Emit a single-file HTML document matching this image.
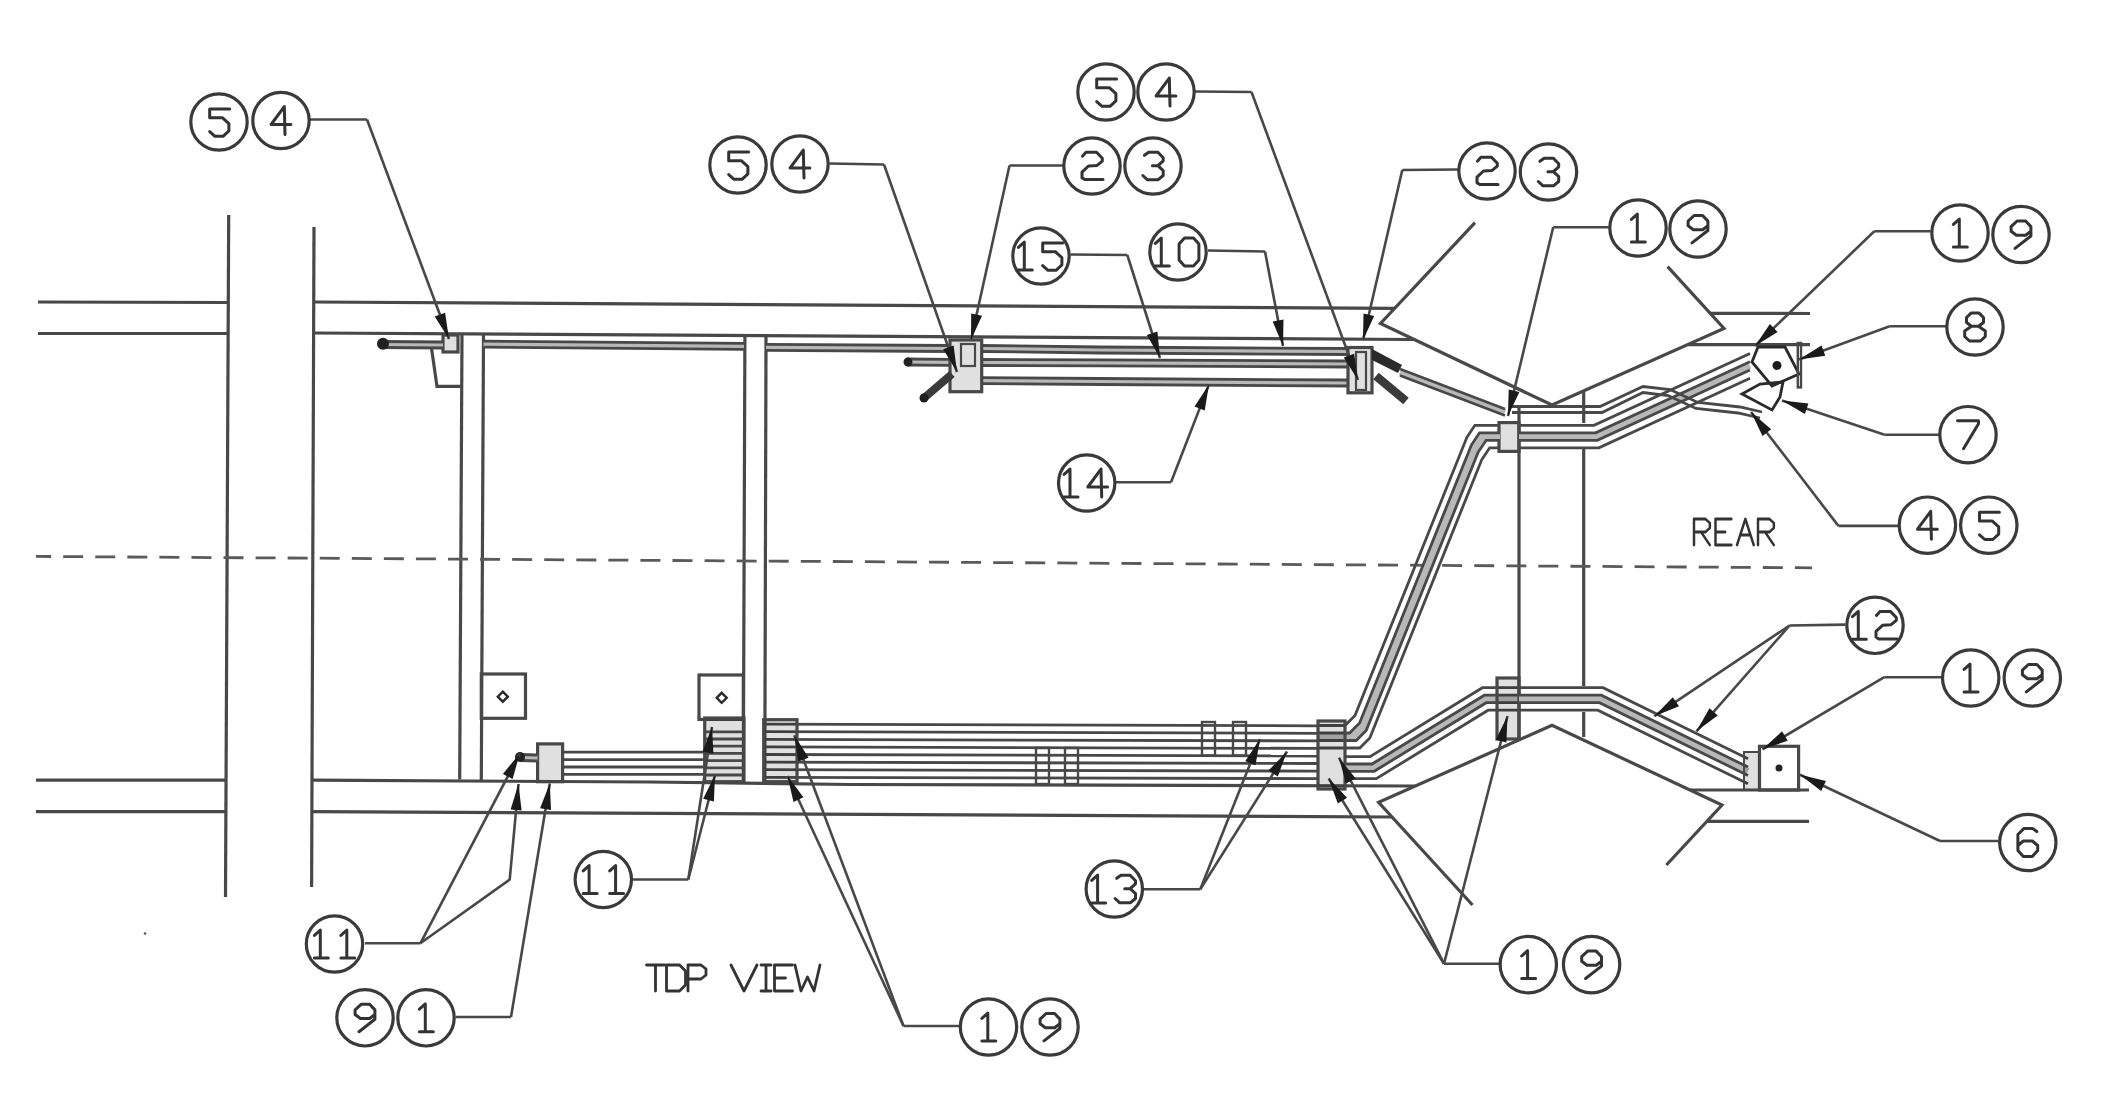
<!DOCTYPE html><html><head><meta charset="utf-8"><style>html,body{margin:0;padding:0;background:#fff;overflow:hidden}svg{display:block}</style></head><body><svg width="2116" height="1112" viewBox="0 0 2116 1112">
<rect width="100%" height="100%" fill="#fff"/>
<g font-family="Liberation Sans, sans-serif" fill="#2a2a2a">
<line x1="38" y1="302" x2="228" y2="302.5" stroke="#484848" stroke-width="3.2" />
<line x1="314" y1="302" x2="1395" y2="308.3" stroke="#484848" stroke-width="3.2" />
<line x1="1710" y1="313.3" x2="1810" y2="313.5" stroke="#484848" stroke-width="3.2" />
<line x1="38" y1="333.5" x2="228" y2="333.5" stroke="#484848" stroke-width="3.2" />
<line x1="314" y1="333" x2="1413" y2="339.5" stroke="#484848" stroke-width="3.2" />
<line x1="1688" y1="344.6" x2="1810" y2="344.6" stroke="#484848" stroke-width="3.2" />
<polyline points="1475,222.7 1380.5,323.4 1552,405 1724,328.4 1667.6,266.7" fill="none" stroke="#484848" stroke-width="3.2" stroke-linejoin="miter" />
<line x1="36" y1="780.2" x2="225.5" y2="780.2" stroke="#484848" stroke-width="3.2" />
<polyline points="311.6,780.2 650,782 850,784.5 1415,786" fill="none" stroke="#484848" stroke-width="3.2" stroke-linejoin="miter" />
<line x1="1690" y1="790" x2="1809" y2="790" stroke="#484848" stroke-width="3.2" />
<line x1="36" y1="811.6" x2="225.5" y2="811.6" stroke="#484848" stroke-width="3.2" />
<line x1="311.6" y1="811.6" x2="1392" y2="817" stroke="#484848" stroke-width="3.2" />
<line x1="1707" y1="821.4" x2="1809" y2="821.4" stroke="#484848" stroke-width="3.2" />
<polyline points="1472.5,905 1378.6,802.4 1552,725.3 1722,805 1666.4,865" fill="none" stroke="#484848" stroke-width="3.2" stroke-linejoin="miter" />
<line x1="228.7" y1="215" x2="225.5" y2="897" stroke="#484848" stroke-width="3.2" />
<line x1="314" y1="227" x2="311.6" y2="887" stroke="#484848" stroke-width="3.2" />
<line x1="462" y1="333.5" x2="459.7" y2="779.5" stroke="#484848" stroke-width="3.2" />
<line x1="483.5" y1="334" x2="481.3" y2="780" stroke="#484848" stroke-width="3.2" />
<line x1="744.9" y1="337" x2="743.3" y2="782" stroke="#484848" stroke-width="3.2" />
<line x1="766" y1="337" x2="764.8" y2="782" stroke="#484848" stroke-width="3.2" />
<line x1="1519" y1="406" x2="1519" y2="740" stroke="#484848" stroke-width="3.2" />
<line x1="1583.7" y1="392" x2="1583.7" y2="423" stroke="#484848" stroke-width="3.2" />
<line x1="1583.7" y1="449" x2="1583.7" y2="686" stroke="#484848" stroke-width="3.2" />
<line x1="1583.7" y1="712" x2="1583.7" y2="737" stroke="#484848" stroke-width="3.2" />
<line x1="36" y1="556.4" x2="1812" y2="567.8" stroke="#5a5a5a" stroke-width="2.8" stroke-dasharray="20 12.07" stroke-dashoffset="4.9"/>
<polyline points="431.3,346.7 437,386.4 462,386.4" fill="none" stroke="#484848" stroke-width="3.2" stroke-linejoin="miter" />
<rect x="443" y="335" width="15" height="17" fill="#000" fill-opacity="0.12" stroke="#484848" stroke-width="3.2"/>
<rect x="481.3" y="674" width="44.2" height="44.3" fill="none" stroke="#484848" stroke-width="3.2"/>
<polygon points="502.8,691.7 507.8,696.7 502.8,701.7 497.8,696.7" fill="none" stroke="#2a2a2a" stroke-width="2.4"/>
<rect x="699" y="675" width="44.3" height="44.4" fill="none" stroke="#484848" stroke-width="3.2"/>
<polygon points="721.7,692.8 726.7,697.8 721.7,702.8 716.7,697.8" fill="none" stroke="#2a2a2a" stroke-width="2.4"/>
<polyline points="380,344.5 443,345" fill="none" stroke="#b8b8b8" stroke-width="6" stroke-linejoin="miter" />
<polyline points="380,341.5 443,342" fill="none" stroke="#484848" stroke-width="2.8" stroke-linejoin="miter" />
<polyline points="380,347.5 443,348" fill="none" stroke="#484848" stroke-width="2.8" stroke-linejoin="miter" />
<polyline points="483.5,344.2 744,346.3" fill="none" stroke="#b8b8b8" stroke-width="6" stroke-linejoin="miter" />
<polyline points="483.5,341.2 744,343.3" fill="none" stroke="#484848" stroke-width="2.8" stroke-linejoin="miter" />
<polyline points="483.5,347.2 744,349.3" fill="none" stroke="#484848" stroke-width="2.8" stroke-linejoin="miter" />
<polyline points="766,347.4 950,348.5" fill="none" stroke="#b8b8b8" stroke-width="6" stroke-linejoin="miter" />
<polyline points="766,344.4 950,345.5" fill="none" stroke="#484848" stroke-width="2.8" stroke-linejoin="miter" />
<polyline points="766,350.4 950,351.5" fill="none" stroke="#484848" stroke-width="2.8" stroke-linejoin="miter" />
<polyline points="981.7,348.5 1100,350 1348,351.5" fill="none" stroke="#b8b8b8" stroke-width="6" stroke-linejoin="miter" />
<polyline points="981.7,345.5 1100,347 1348,348.5" fill="none" stroke="#484848" stroke-width="2.8" stroke-linejoin="miter" />
<polyline points="981.7,351.5 1100,353 1348,354.5" fill="none" stroke="#484848" stroke-width="2.8" stroke-linejoin="miter" />
<polyline points="907,362 950,362.3" fill="none" stroke="#b8b8b8" stroke-width="6" stroke-linejoin="miter" />
<polyline points="907,359 950,359.3" fill="none" stroke="#484848" stroke-width="2.8" stroke-linejoin="miter" />
<polyline points="907,365 950,365.3" fill="none" stroke="#484848" stroke-width="2.8" stroke-linejoin="miter" />
<polyline points="981.7,362.5 1100,362.8 1348,364" fill="none" stroke="#b8b8b8" stroke-width="6" stroke-linejoin="miter" />
<polyline points="981.7,359.5 1100,359.8 1348,361" fill="none" stroke="#484848" stroke-width="2.8" stroke-linejoin="miter" />
<polyline points="981.7,365.5 1100,365.8 1348,367" fill="none" stroke="#484848" stroke-width="2.8" stroke-linejoin="miter" />
<polyline points="981.7,380.7 1100,381.5 1348,383" fill="none" stroke="#b8b8b8" stroke-width="6" stroke-linejoin="miter" />
<polyline points="981.7,377.7 1100,378.5 1348,380" fill="none" stroke="#484848" stroke-width="2.8" stroke-linejoin="miter" />
<polyline points="981.7,383.7 1100,384.5 1348,386" fill="none" stroke="#484848" stroke-width="2.8" stroke-linejoin="miter" />
<circle cx="383" cy="343.8" r="6" fill="#222"/>
<circle cx="908" cy="362" r="4.5" fill="#222"/>
<rect x="950" y="340" width="31.7" height="51.7" fill="#000" fill-opacity="0.12" stroke="#484848" stroke-width="3.2"/>
<rect x="961" y="344" width="14" height="22" fill="none" stroke="#484848" stroke-width="2.2"/>
<rect x="1348" y="347.5" width="24" height="45.3" fill="#000" fill-opacity="0.12" stroke="#484848" stroke-width="3.2"/>
<rect x="1356" y="352" width="10" height="38" fill="none" stroke="#484848" stroke-width="2.2"/>
<line x1="952" y1="374" x2="924" y2="398" stroke="#3a3a3a" stroke-width="8" />
<circle cx="924" cy="398" r="4.5" fill="#1e1e1e"/>
<line x1="1376" y1="376" x2="1406" y2="401" stroke="#3a3a3a" stroke-width="8.5" />
<polygon points="1372,349 1402,365 1398,373 1372,360" fill="#2a2a2a"/>
<polyline points="1400,372.2 1505,412.2" fill="none" stroke="#b8b8b8" stroke-width="6.5" stroke-linejoin="miter" />
<polyline points="1400,369 1505,409" fill="none" stroke="#484848" stroke-width="2.8" stroke-linejoin="miter" />
<polyline points="1400,375.5 1505,415.5" fill="none" stroke="#484848" stroke-width="2.8" stroke-linejoin="miter" />
<rect x="1499" y="422.6" width="20" height="28.8" fill="#000" fill-opacity="0.12" stroke="#484848" stroke-width="3.2"/>
<polyline points="1519,436.6 1596.5,436.6 1750,365.9" fill="none" stroke="#b8b8b8" stroke-width="6.0" stroke-linejoin="miter" />
<polyline points="1519,425.3 1594,425.3 1750,353.5" fill="none" stroke="#484848" stroke-width="2.8" stroke-linejoin="miter" />
<polyline points="1519,432.8 1595.6,432.8 1750,361.8" fill="none" stroke="#484848" stroke-width="2.8" stroke-linejoin="miter" />
<polyline points="1519,440.3 1597.3,440.3 1750,370.1" fill="none" stroke="#484848" stroke-width="2.8" stroke-linejoin="miter" />
<polyline points="1519,447.8 1598.9,447.8 1750,378.3" fill="none" stroke="#484848" stroke-width="2.8" stroke-linejoin="miter" />
<polyline points="1512,406.5 1600,406.5 1643,386.5 1670,389.5 1698,402.5 1740,407 1762,412" fill="none" stroke="#484848" stroke-width="2.8" stroke-linejoin="miter" />
<polyline points="1512,412.5 1602,412.5 1643,392.5 1668,395.5 1696,408.5 1738,413 1760,418" fill="none" stroke="#484848" stroke-width="2.8" stroke-linejoin="miter" />
<polygon points="1758,347 1785,347 1799,374 1772,386 1752,362" fill="none" stroke="#2a2a2a" stroke-width="2.8"/>
<circle cx="1777" cy="365.5" r="4.5" fill="#1a1a1a"/>
<polygon points="1742,394 1760,384 1783,382 1780,397 1772,410" fill="none" stroke="#2a2a2a" stroke-width="2.8"/>
<rect x="1797.8" y="343" width="3.2" height="44.4" fill="none" stroke="#484848" stroke-width="2.4"/>
<polyline points="1500,436.6 1482.8,436.6 1474.8,448.6 1362.9,726.8 1352.9,736.8 1318,736.8" fill="none" stroke="#b8b8b8" stroke-width="8" stroke-linejoin="miter" />
<polyline points="1500,425.3 1474.9,425.3 1466.9,437.3 1355,715.5 1345,725.5 1318,725.5" fill="none" stroke="#484848" stroke-width="2.8" stroke-linejoin="miter" />
<polyline points="1500,432.8 1479.5,432.8 1471.5,444.8 1359.6,723 1349.6,733 1318,733" fill="none" stroke="#484848" stroke-width="2.8" stroke-linejoin="miter" />
<polyline points="1500,440.3 1486.1,440.3 1478.1,452.3 1366.2,730.5 1356.2,740.5 1318,740.5" fill="none" stroke="#484848" stroke-width="2.8" stroke-linejoin="miter" />
<polyline points="1500,447.8 1489.7,447.8 1481.7,459.8 1369.8,738 1359.8,748 1318,748" fill="none" stroke="#484848" stroke-width="2.8" stroke-linejoin="miter" />
<rect x="1318" y="721" width="27" height="68" fill="#000" fill-opacity="0.12" stroke="#484848" stroke-width="3.2"/>
<polyline points="1345,767.7 1373.2,767.7 1485.2,699 1519,699" fill="none" stroke="#b8b8b8" stroke-width="6" stroke-linejoin="miter" />
<polyline points="1345,756.7 1370,756.7 1482.4,687.7 1519,687.7" fill="none" stroke="#484848" stroke-width="2.8" stroke-linejoin="miter" />
<polyline points="1345,764 1372.1,764 1484.3,695.2 1519,695.2" fill="none" stroke="#484848" stroke-width="2.8" stroke-linejoin="miter" />
<polyline points="1345,771.3 1374.2,771.3 1486.2,702.7 1519,702.7" fill="none" stroke="#484848" stroke-width="2.8" stroke-linejoin="miter" />
<polyline points="1345,778.6 1376.3,778.6 1488.1,710.2 1519,710.2" fill="none" stroke="#484848" stroke-width="2.8" stroke-linejoin="miter" />
<rect x="1497" y="678" width="22" height="61" fill="#000" fill-opacity="0.12" stroke="#484848" stroke-width="3.2"/>
<polyline points="1519,699 1600.4,699 1748,771.3" fill="none" stroke="#b8b8b8" stroke-width="6.0" stroke-linejoin="miter" />
<polyline points="1519,687.7 1603,687.7 1748,758.8" fill="none" stroke="#484848" stroke-width="2.8" stroke-linejoin="miter" />
<polyline points="1519,695.2 1601.3,695.2 1748,767.1" fill="none" stroke="#484848" stroke-width="2.8" stroke-linejoin="miter" />
<polyline points="1519,702.7 1599.5,702.7 1748,775.5" fill="none" stroke="#484848" stroke-width="2.8" stroke-linejoin="miter" />
<polyline points="1519,710.2 1597.8,710.2 1748,783.8" fill="none" stroke="#484848" stroke-width="2.8" stroke-linejoin="miter" />
<rect x="1759.5" y="746.3" width="39.1" height="43.7" fill="none" stroke="#484848" stroke-width="3.2"/>
<circle cx="1779" cy="768" r="3.5" fill="#222"/>
<rect x="1744" y="752" width="16" height="38" fill="#000" fill-opacity="0.12" stroke="#484848" stroke-width="2"/>
<line x1="764" y1="724.1" x2="1318" y2="725.8" stroke="#484848" stroke-width="2.8" />
<line x1="764" y1="731.7" x2="1318" y2="733.3" stroke="#484848" stroke-width="2.8" />
<line x1="764" y1="739.3" x2="1318" y2="740.9" stroke="#484848" stroke-width="2.8" />
<line x1="764" y1="746.9" x2="1318" y2="748.4" stroke="#484848" stroke-width="2.8" />
<line x1="764" y1="754.5" x2="1318" y2="756" stroke="#484848" stroke-width="2.8" />
<line x1="764" y1="762.1" x2="1318" y2="763.5" stroke="#484848" stroke-width="2.8" />
<line x1="764" y1="769.7" x2="1318" y2="771.1" stroke="#484848" stroke-width="2.8" />
<line x1="764" y1="777.3" x2="1318" y2="778.6" stroke="#484848" stroke-width="2.8" />
<rect x="763.7" y="719.7" width="33.3" height="62" fill="#000" fill-opacity="0.12" stroke="#484848" stroke-width="3.2"/>
<rect x="704.7" y="718" width="39.3" height="63.7" fill="#000" fill-opacity="0.12" stroke="#484848" stroke-width="3.2"/>
<line x1="744" y1="731.8" x2="704.7" y2="731.8" stroke="#484848" stroke-width="2.8" />
<line x1="744" y1="739" x2="704.7" y2="739" stroke="#484848" stroke-width="2.8" />
<line x1="744" y1="746.2" x2="704.7" y2="746.2" stroke="#484848" stroke-width="2.8" />
<line x1="744" y1="753.4" x2="704.7" y2="753.4" stroke="#484848" stroke-width="2.8" />
<line x1="744" y1="760.6" x2="704.7" y2="760.6" stroke="#484848" stroke-width="2.8" />
<line x1="744" y1="767.8" x2="704.7" y2="767.8" stroke="#484848" stroke-width="2.8" />
<line x1="744" y1="775" x2="704.7" y2="775" stroke="#484848" stroke-width="2.8" />
<line x1="562.6" y1="752.2" x2="704.7" y2="752.2" stroke="#484848" stroke-width="2.8" />
<line x1="562.6" y1="759.6" x2="704.7" y2="759.6" stroke="#484848" stroke-width="2.8" />
<line x1="562.6" y1="767" x2="704.7" y2="767" stroke="#484848" stroke-width="2.8" />
<line x1="562.6" y1="774.4" x2="704.7" y2="774.4" stroke="#484848" stroke-width="2.8" />
<rect x="537.6" y="743.9" width="25" height="37.8" fill="#000" fill-opacity="0.12" stroke="#484848" stroke-width="3.2"/>
<polyline points="520,757.5 537.6,758" fill="none" stroke="#b8b8b8" stroke-width="6" stroke-linejoin="miter" />
<polyline points="520,754.5 537.6,755" fill="none" stroke="#484848" stroke-width="2.8" stroke-linejoin="miter" />
<polyline points="520,760.5 537.6,761" fill="none" stroke="#484848" stroke-width="2.8" stroke-linejoin="miter" />
<circle cx="520" cy="757" r="5" fill="#222"/>
<rect x="1036" y="748" width="13" height="36" fill="none" stroke="#484848" stroke-width="2.4"/>
<rect x="1065" y="748" width="13" height="36" fill="none" stroke="#484848" stroke-width="2.4"/>
<rect x="1202" y="722" width="13" height="33.6" fill="none" stroke="#484848" stroke-width="2.4"/>
<rect x="1233" y="722" width="13" height="33.6" fill="none" stroke="#484848" stroke-width="2.4"/>
<polyline points="310,119.5 367,119.5" fill="none" stroke="#484848" stroke-width="2.6" stroke-linejoin="miter" />
<line x1="367" y1="119.5" x2="449" y2="339" stroke="#484848" stroke-width="2.6" />
<polygon points="449,339 434.7,316.6 445.1,312.7" fill="#1a1a1a"/>
<circle cx="219" cy="122" r="28.2" fill="white" stroke="#3a3a3a" stroke-width="3.2"/>
<path d="M10.6,-12.9 L-9.3,-12.9 L-9.3,-4.3 L3.3,-4.3 L9.9,1.7 L9.9,8.9 L4,14.3 L-4,14.3 L-9.3,9.6" transform="translate(219,122)" fill="none" stroke="#333" stroke-width="3.0" stroke-linejoin="round" stroke-linecap="round"/>
<circle cx="281" cy="120.5" r="28.2" fill="white" stroke="#3a3a3a" stroke-width="3.2"/>
<path d="M4,14 L3.3,-13.9 L-9.9,4 L9.9,4" transform="translate(281,120.5)" fill="none" stroke="#333" stroke-width="3.0" stroke-linejoin="round" stroke-linecap="round"/>
<polyline points="829.5,163.5 884,164.5" fill="none" stroke="#484848" stroke-width="2.6" stroke-linejoin="miter" />
<line x1="884" y1="164.5" x2="957" y2="372" stroke="#484848" stroke-width="2.6" />
<polygon points="957,372 943.2,349.3 953.6,345.6" fill="#1a1a1a"/>
<circle cx="738" cy="165" r="28.2" fill="white" stroke="#3a3a3a" stroke-width="3.2"/>
<path d="M10.6,-12.9 L-9.3,-12.9 L-9.3,-4.3 L3.3,-4.3 L9.9,1.7 L9.9,8.9 L4,14.3 L-4,14.3 L-9.3,9.6" transform="translate(738,165)" fill="none" stroke="#333" stroke-width="3.0" stroke-linejoin="round" stroke-linecap="round"/>
<circle cx="800" cy="164" r="28.2" fill="white" stroke="#3a3a3a" stroke-width="3.2"/>
<path d="M4,14 L3.3,-13.9 L-9.9,4 L9.9,4" transform="translate(800,164)" fill="none" stroke="#333" stroke-width="3.0" stroke-linejoin="round" stroke-linecap="round"/>
<polyline points="1063.5,165.5 1009.5,165.5" fill="none" stroke="#484848" stroke-width="2.6" stroke-linejoin="miter" />
<line x1="1009.5" y1="165.5" x2="971" y2="340" stroke="#484848" stroke-width="2.6" />
<polygon points="971,340 971.2,313.4 982,315.8" fill="#1a1a1a"/>
<circle cx="1092" cy="166" r="28.2" fill="white" stroke="#3a3a3a" stroke-width="3.2"/>
<path d="M-9.6,-9.8 L-6,-13.8 L4.5,-13.8 L10.3,-7.8 L10.3,-4.9 L5.1,-0.6 L-3.5,0 L-10,6.1 L-10,11.7 L-7.2,13.6 L11,13.6" transform="translate(1092,166)" fill="none" stroke="#333" stroke-width="3.0" stroke-linejoin="round" stroke-linecap="round"/>
<circle cx="1153" cy="166" r="28.2" fill="white" stroke="#3a3a3a" stroke-width="3.2"/>
<path d="M-8.6,-10.7 L-4.3,-13.8 L4.9,-13.8 L10.2,-8.3 L10.2,-5.2 L4.9,-0.3 L-0.6,-0.3 M4.9,-0.3 L10.2,4.6 L10.2,9.5 L4.9,13.8 L-5.5,13.8 L-10.2,9.5" transform="translate(1153,166)" fill="none" stroke="#333" stroke-width="3.0" stroke-linejoin="round" stroke-linecap="round"/>
<polyline points="1195,91.5 1251.5,92" fill="none" stroke="#484848" stroke-width="2.6" stroke-linejoin="miter" />
<line x1="1251.5" y1="92" x2="1358" y2="380" stroke="#484848" stroke-width="2.6" />
<polygon points="1358,380 1343.8,357.5 1354.1,353.7" fill="#1a1a1a"/>
<circle cx="1106" cy="92" r="28.2" fill="white" stroke="#3a3a3a" stroke-width="3.2"/>
<path d="M10.6,-12.9 L-9.3,-12.9 L-9.3,-4.3 L3.3,-4.3 L9.9,1.7 L9.9,8.9 L4,14.3 L-4,14.3 L-9.3,9.6" transform="translate(1106,92)" fill="none" stroke="#333" stroke-width="3.0" stroke-linejoin="round" stroke-linecap="round"/>
<circle cx="1166" cy="92" r="28.2" fill="white" stroke="#3a3a3a" stroke-width="3.2"/>
<path d="M4,14 L3.3,-13.9 L-9.9,4 L9.9,4" transform="translate(1166,92)" fill="none" stroke="#333" stroke-width="3.0" stroke-linejoin="round" stroke-linecap="round"/>
<polyline points="1458,169.5 1402.3,170" fill="none" stroke="#484848" stroke-width="2.6" stroke-linejoin="miter" />
<line x1="1402.3" y1="170" x2="1363" y2="340" stroke="#484848" stroke-width="2.6" />
<polygon points="1363,340 1363.5,313.4 1374.2,315.9" fill="#1a1a1a"/>
<circle cx="1487" cy="171" r="28.2" fill="white" stroke="#3a3a3a" stroke-width="3.2"/>
<path d="M-9.6,-9.8 L-6,-13.8 L4.5,-13.8 L10.3,-7.8 L10.3,-4.9 L5.1,-0.6 L-3.5,0 L-10,6.1 L-10,11.7 L-7.2,13.6 L11,13.6" transform="translate(1487,171)" fill="none" stroke="#333" stroke-width="3.0" stroke-linejoin="round" stroke-linecap="round"/>
<circle cx="1548.5" cy="172" r="28.2" fill="white" stroke="#3a3a3a" stroke-width="3.2"/>
<path d="M-8.6,-10.7 L-4.3,-13.8 L4.9,-13.8 L10.2,-8.3 L10.2,-5.2 L4.9,-0.3 L-0.6,-0.3 M4.9,-0.3 L10.2,4.6 L10.2,9.5 L4.9,13.8 L-5.5,13.8 L-10.2,9.5" transform="translate(1548.5,172)" fill="none" stroke="#333" stroke-width="3.0" stroke-linejoin="round" stroke-linecap="round"/>
<polyline points="1070.5,254.5 1127.3,255" fill="none" stroke="#484848" stroke-width="2.6" stroke-linejoin="miter" />
<line x1="1127.3" y1="255" x2="1160" y2="358" stroke="#484848" stroke-width="2.6" />
<polygon points="1160,358 1146.9,334.9 1157.4,331.6" fill="#1a1a1a"/>
<circle cx="1041" cy="256" r="28.2" fill="white" stroke="#3a3a3a" stroke-width="3.2"/>
<path d="M-6.6,-8.6 L-0.7,-13.9 L-0.7,13.9 M-6.6,13.9 L7.3,13.9" transform="translate(1025,256)" fill="none" stroke="#333" stroke-width="3.0" stroke-linejoin="round" stroke-linecap="round"/>
<path d="M10.6,-12.9 L-9.3,-12.9 L-9.3,-4.3 L3.3,-4.3 L9.9,1.7 L9.9,8.9 L4,14.3 L-4,14.3 L-9.3,9.6" transform="translate(1052,256)" fill="none" stroke="#333" stroke-width="3.0" stroke-linejoin="round" stroke-linecap="round"/>
<polyline points="1208,250.5 1265,251.5" fill="none" stroke="#484848" stroke-width="2.6" stroke-linejoin="miter" />
<line x1="1265" y1="251.5" x2="1283" y2="346" stroke="#484848" stroke-width="2.6" />
<polygon points="1283,346 1272.7,321.5 1283.5,319.4" fill="#1a1a1a"/>
<circle cx="1178" cy="252" r="28.2" fill="white" stroke="#3a3a3a" stroke-width="3.2"/>
<path d="M-6.6,-8.6 L-0.7,-13.9 L-0.7,13.9 M-6.6,13.9 L7.3,13.9" transform="translate(1162,252)" fill="none" stroke="#333" stroke-width="3.0" stroke-linejoin="round" stroke-linecap="round"/>
<path d="M-4.5,-13.9 L4.5,-13.9 L9.9,-8 L9.9,8 L4.5,13.9 L-4.5,13.9 L-9.9,8 L-9.9,-8 Z" transform="translate(1189,252)" fill="none" stroke="#333" stroke-width="3.0" stroke-linejoin="round" stroke-linecap="round"/>
<polyline points="1114.8,482.2 1171,482.2" fill="none" stroke="#484848" stroke-width="2.6" stroke-linejoin="miter" />
<line x1="1171" y1="482.2" x2="1209" y2="384.4" stroke="#484848" stroke-width="2.6" />
<polygon points="1209,384.4 1204.7,410.6 1194.5,406.6" fill="#1a1a1a"/>
<circle cx="1086.7" cy="483" r="28.2" fill="white" stroke="#3a3a3a" stroke-width="3.2"/>
<path d="M-6.6,-8.6 L-0.7,-13.9 L-0.7,13.9 M-6.6,13.9 L7.3,13.9" transform="translate(1070.7,483)" fill="none" stroke="#333" stroke-width="3.0" stroke-linejoin="round" stroke-linecap="round"/>
<path d="M4,14 L3.3,-13.9 L-9.9,4 L9.9,4" transform="translate(1097.7,483)" fill="none" stroke="#333" stroke-width="3.0" stroke-linejoin="round" stroke-linecap="round"/>
<polyline points="1608.7,227.3 1553.2,227.3" fill="none" stroke="#484848" stroke-width="2.6" stroke-linejoin="miter" />
<line x1="1553.2" y1="227.3" x2="1508" y2="416" stroke="#484848" stroke-width="2.6" />
<polygon points="1508,416 1508.7,389.4 1519.4,392" fill="#1a1a1a"/>
<circle cx="1638" cy="228" r="28.2" fill="white" stroke="#3a3a3a" stroke-width="3.2"/>
<path d="M-6.6,-8.6 L-0.7,-13.9 L-0.7,13.9 M-6.6,13.9 L7.3,13.9" transform="translate(1638,228)" fill="none" stroke="#333" stroke-width="3.0" stroke-linejoin="round" stroke-linecap="round"/>
<circle cx="1698" cy="229" r="28.2" fill="white" stroke="#3a3a3a" stroke-width="3.2"/>
<path d="M9.9,-3.3 L4.6,0.7 L-4.6,0.7 L-9.9,-3.3 L-9.9,-7.9 L-3.9,-13.5 L4.6,-13.5 L9.9,-7.9 L9.9,1.5 L-6,13.9" transform="translate(1698,229)" fill="none" stroke="#333" stroke-width="3.0" stroke-linejoin="round" stroke-linecap="round"/>
<polyline points="1930.7,231.3 1874.3,231.3" fill="none" stroke="#484848" stroke-width="2.6" stroke-linejoin="miter" />
<line x1="1874.3" y1="231.3" x2="1755" y2="346" stroke="#484848" stroke-width="2.6" />
<polygon points="1755,346 1769.9,324 1777.6,331.9" fill="#1a1a1a"/>
<circle cx="1960" cy="233" r="28.2" fill="white" stroke="#3a3a3a" stroke-width="3.2"/>
<path d="M-6.6,-8.6 L-0.7,-13.9 L-0.7,13.9 M-6.6,13.9 L7.3,13.9" transform="translate(1960,233)" fill="none" stroke="#333" stroke-width="3.0" stroke-linejoin="round" stroke-linecap="round"/>
<circle cx="2021" cy="234.5" r="28.2" fill="white" stroke="#3a3a3a" stroke-width="3.2"/>
<path d="M9.9,-3.3 L4.6,0.7 L-4.6,0.7 L-9.9,-3.3 L-9.9,-7.9 L-3.9,-13.5 L4.6,-13.5 L9.9,-7.9 L9.9,1.5 L-6,13.9" transform="translate(2021,234.5)" fill="none" stroke="#333" stroke-width="3.0" stroke-linejoin="round" stroke-linecap="round"/>
<polyline points="1946,326.3 1889.7,326.3" fill="none" stroke="#484848" stroke-width="2.6" stroke-linejoin="miter" />
<line x1="1889.7" y1="326.3" x2="1799" y2="359.5" stroke="#484848" stroke-width="2.6" />
<polygon points="1799,359.5 1821.5,345.4 1825.3,355.7" fill="#1a1a1a"/>
<circle cx="1975" cy="327" r="28.2" fill="white" stroke="#3a3a3a" stroke-width="3.2"/>
<path d="M-3.5,-0.8 L-8.5,-4.5 L-8.5,-9.5 L-4,-13.9 L4,-13.9 L8.5,-9.5 L8.5,-4.5 L3.5,-0.8 L-3.5,-0.8 L-10.3,4 L-10.3,9.5 L-5.5,14 L5.5,14 L10.3,9.5 L10.3,4 L3.5,-0.8" transform="translate(1975,327)" fill="none" stroke="#333" stroke-width="3.0" stroke-linejoin="round" stroke-linecap="round"/>
<polyline points="1939.3,434.7 1884.6,434.7" fill="none" stroke="#484848" stroke-width="2.6" stroke-linejoin="miter" />
<line x1="1884.6" y1="434.7" x2="1782" y2="400.5" stroke="#484848" stroke-width="2.6" />
<polygon points="1782,400.5 1808.4,403.5 1804.9,413.9" fill="#1a1a1a"/>
<circle cx="1968" cy="434.7" r="28.2" fill="white" stroke="#3a3a3a" stroke-width="3.2"/>
<path d="M-10.5,-13.9 L10.5,-13.9 L10.5,-11 L-4.5,14" transform="translate(1968,434.7)" fill="none" stroke="#333" stroke-width="3.0" stroke-linejoin="round" stroke-linecap="round"/>
<polyline points="1898.3,525.9 1838.4,525.9" fill="none" stroke="#484848" stroke-width="2.6" stroke-linejoin="miter" />
<line x1="1838.4" y1="525.9" x2="1751" y2="412" stroke="#484848" stroke-width="2.6" />
<polygon points="1751,412 1771.2,429.3 1762.5,436" fill="#1a1a1a"/>
<circle cx="1927.4" cy="525.2" r="28.2" fill="white" stroke="#3a3a3a" stroke-width="3.2"/>
<path d="M4,14 L3.3,-13.9 L-9.9,4 L9.9,4" transform="translate(1927.4,525.2)" fill="none" stroke="#333" stroke-width="3.0" stroke-linejoin="round" stroke-linecap="round"/>
<circle cx="1988.8" cy="525.2" r="28.2" fill="white" stroke="#3a3a3a" stroke-width="3.2"/>
<path d="M10.6,-12.9 L-9.3,-12.9 L-9.3,-4.3 L3.3,-4.3 L9.9,1.7 L9.9,8.9 L4,14.3 L-4,14.3 L-9.3,9.6" transform="translate(1988.8,525.2)" fill="none" stroke="#333" stroke-width="3.0" stroke-linejoin="round" stroke-linecap="round"/>
<polyline points="1845.2,624.6 1789.6,625.5" fill="none" stroke="#484848" stroke-width="2.6" stroke-linejoin="miter" />
<line x1="1789.6" y1="625.5" x2="1654.3" y2="716.2" stroke="#484848" stroke-width="2.6" />
<polygon points="1654.3,716.2 1672.8,697.2 1679,706.3" fill="#1a1a1a"/>
<line x1="1789.6" y1="625.5" x2="1696.4" y2="731.3" stroke="#484848" stroke-width="2.6" />
<polygon points="1696.4,731.3 1709.5,708.2 1717.7,715.4" fill="#1a1a1a"/>
<circle cx="1875" cy="625.3" r="28.2" fill="white" stroke="#3a3a3a" stroke-width="3.2"/>
<path d="M-6.6,-8.6 L-0.7,-13.9 L-0.7,13.9 M-6.6,13.9 L7.3,13.9" transform="translate(1859,625.3)" fill="none" stroke="#333" stroke-width="3.0" stroke-linejoin="round" stroke-linecap="round"/>
<path d="M-9.6,-9.8 L-6,-13.8 L4.5,-13.8 L10.3,-7.8 L10.3,-4.9 L5.1,-0.6 L-3.5,0 L-10,6.1 L-10,11.7 L-7.2,13.6 L11,13.6" transform="translate(1886,625.3)" fill="none" stroke="#333" stroke-width="3.0" stroke-linejoin="round" stroke-linecap="round"/>
<polyline points="1941.4,677.2 1884.3,677.2" fill="none" stroke="#484848" stroke-width="2.6" stroke-linejoin="miter" />
<line x1="1884.3" y1="677.2" x2="1762.5" y2="749.3" stroke="#484848" stroke-width="2.6" />
<polygon points="1762.5,749.3 1782.1,731.3 1787.7,740.8" fill="#1a1a1a"/>
<circle cx="1970.7" cy="678" r="28.2" fill="white" stroke="#3a3a3a" stroke-width="3.2"/>
<path d="M-6.6,-8.6 L-0.7,-13.9 L-0.7,13.9 M-6.6,13.9 L7.3,13.9" transform="translate(1970.7,678)" fill="none" stroke="#333" stroke-width="3.0" stroke-linejoin="round" stroke-linecap="round"/>
<circle cx="2032.3" cy="678" r="28.2" fill="white" stroke="#3a3a3a" stroke-width="3.2"/>
<path d="M9.9,-3.3 L4.6,0.7 L-4.6,0.7 L-9.9,-3.3 L-9.9,-7.9 L-3.9,-13.5 L4.6,-13.5 L9.9,-7.9 L9.9,1.5 L-6,13.9" transform="translate(2032.3,678)" fill="none" stroke="#333" stroke-width="3.0" stroke-linejoin="round" stroke-linecap="round"/>
<polyline points="1998.5,841 1940,841" fill="none" stroke="#484848" stroke-width="2.6" stroke-linejoin="miter" />
<line x1="1940" y1="841" x2="1800" y2="774.8" stroke="#484848" stroke-width="2.6" />
<polygon points="1800,774.8 1825.9,780.9 1821.2,790.9" fill="#1a1a1a"/>
<circle cx="2027.8" cy="842.5" r="28.2" fill="white" stroke="#3a3a3a" stroke-width="3.2"/>
<path d="M9,-11 L5,-13.9 L-4,-13.9 L-9.9,-8 L-9.9,8 L-4.5,13.9 L4.5,13.9 L9.9,8 L9.9,3 L4.5,-1.5 L-4.5,-1.5 L-9.9,3" transform="translate(2027.8,842.5)" fill="none" stroke="#333" stroke-width="3.0" stroke-linejoin="round" stroke-linecap="round"/>
<polyline points="1143.6,889.2 1200.3,889.2" fill="none" stroke="#484848" stroke-width="2.6" stroke-linejoin="miter" />
<line x1="1200.3" y1="889.2" x2="1260" y2="739" stroke="#484848" stroke-width="2.6" />
<polygon points="1260,739 1255.5,765.2 1245.3,761.1" fill="#1a1a1a"/>
<line x1="1200.3" y1="889.2" x2="1287" y2="751.5" stroke="#484848" stroke-width="2.6" />
<polygon points="1287,751.5 1277.8,776.4 1268.5,770.6" fill="#1a1a1a"/>
<circle cx="1114.3" cy="889" r="28.2" fill="white" stroke="#3a3a3a" stroke-width="3.2"/>
<path d="M-6.6,-8.6 L-0.7,-13.9 L-0.7,13.9 M-6.6,13.9 L7.3,13.9" transform="translate(1098.3,889)" fill="none" stroke="#333" stroke-width="3.0" stroke-linejoin="round" stroke-linecap="round"/>
<path d="M-8.6,-10.7 L-4.3,-13.8 L4.9,-13.8 L10.2,-8.3 L10.2,-5.2 L4.9,-0.3 L-0.6,-0.3 M4.9,-0.3 L10.2,4.6 L10.2,9.5 L4.9,13.8 L-5.5,13.8 L-10.2,9.5" transform="translate(1125.3,889)" fill="none" stroke="#333" stroke-width="3.0" stroke-linejoin="round" stroke-linecap="round"/>
<polyline points="1499,963.7 1444,963.7" fill="none" stroke="#484848" stroke-width="2.6" stroke-linejoin="miter" />
<line x1="1444" y1="963.7" x2="1328.7" y2="778.5" stroke="#484848" stroke-width="2.6" />
<polygon points="1328.7,778.5 1347.1,797.7 1337.8,803.5" fill="#1a1a1a"/>
<line x1="1444" y1="963.7" x2="1339" y2="757.7" stroke="#484848" stroke-width="2.6" />
<polygon points="1339,757.7 1355.7,778.4 1345.9,783.4" fill="#1a1a1a"/>
<line x1="1444" y1="963.7" x2="1507.5" y2="716" stroke="#484848" stroke-width="2.6" />
<polygon points="1507.5,716 1506.4,742.6 1495.7,739.8" fill="#1a1a1a"/>
<circle cx="1528.3" cy="964.6" r="28.2" fill="white" stroke="#3a3a3a" stroke-width="3.2"/>
<path d="M-6.6,-8.6 L-0.7,-13.9 L-0.7,13.9 M-6.6,13.9 L7.3,13.9" transform="translate(1528.3,964.6)" fill="none" stroke="#333" stroke-width="3.0" stroke-linejoin="round" stroke-linecap="round"/>
<circle cx="1591.6" cy="964.6" r="28.2" fill="white" stroke="#3a3a3a" stroke-width="3.2"/>
<path d="M9.9,-3.3 L4.6,0.7 L-4.6,0.7 L-9.9,-3.3 L-9.9,-7.9 L-3.9,-13.5 L4.6,-13.5 L9.9,-7.9 L9.9,1.5 L-6,13.9" transform="translate(1591.6,964.6)" fill="none" stroke="#333" stroke-width="3.0" stroke-linejoin="round" stroke-linecap="round"/>
<polyline points="960.2,1026 903.5,1026" fill="none" stroke="#484848" stroke-width="2.6" stroke-linejoin="miter" />
<line x1="903.5" y1="1026" x2="787.5" y2="776" stroke="#484848" stroke-width="2.6" />
<polygon points="787.5,776 803.4,797.3 793.5,801.9" fill="#1a1a1a"/>
<line x1="903.5" y1="1026" x2="794.3" y2="735.3" stroke="#484848" stroke-width="2.6" />
<polygon points="794.3,735.3 808.6,757.7 798.3,761.6" fill="#1a1a1a"/>
<circle cx="988.5" cy="1027" r="28.2" fill="white" stroke="#3a3a3a" stroke-width="3.2"/>
<path d="M-6.6,-8.6 L-0.7,-13.9 L-0.7,13.9 M-6.6,13.9 L7.3,13.9" transform="translate(988.5,1027)" fill="none" stroke="#333" stroke-width="3.0" stroke-linejoin="round" stroke-linecap="round"/>
<circle cx="1050" cy="1027" r="28.2" fill="white" stroke="#3a3a3a" stroke-width="3.2"/>
<path d="M9.9,-3.3 L4.6,0.7 L-4.6,0.7 L-9.9,-3.3 L-9.9,-7.9 L-3.9,-13.5 L4.6,-13.5 L9.9,-7.9 L9.9,1.5 L-6,13.9" transform="translate(1050,1027)" fill="none" stroke="#333" stroke-width="3.0" stroke-linejoin="round" stroke-linecap="round"/>
<polyline points="365,943.3 420.4,943.3" fill="none" stroke="#484848" stroke-width="2.6" stroke-linejoin="miter" />
<line x1="420.4" y1="943.3" x2="519.8" y2="753.4" stroke="#484848" stroke-width="2.6" />
<polygon points="519.8,753.4 512.6,779 502.9,773.9" fill="#1a1a1a"/>
<polyline points="420.4,943.3 509.7,879.5 518.5,784" fill="none" stroke="#484848" stroke-width="2.6" stroke-linejoin="miter" />
<polygon points="518.5,784 521.6,810.4 510.6,809.4" fill="#1a1a1a"/>
<circle cx="334.5" cy="944" r="28.2" fill="white" stroke="#3a3a3a" stroke-width="3.2"/>
<path d="M-6.6,-8.6 L-0.7,-13.9 L-0.7,13.9 M-6.6,13.9 L7.3,13.9" transform="translate(321,944)" fill="none" stroke="#333" stroke-width="3.0" stroke-linejoin="round" stroke-linecap="round"/>
<path d="M-6.6,-8.6 L-0.7,-13.9 L-0.7,13.9 M-6.6,13.9 L7.3,13.9" transform="translate(347.5,944)" fill="none" stroke="#333" stroke-width="3.0" stroke-linejoin="round" stroke-linecap="round"/>
<polyline points="455.8,1017 511,1017" fill="none" stroke="#484848" stroke-width="2.6" stroke-linejoin="miter" />
<line x1="511" y1="1017" x2="549.8" y2="783.5" stroke="#484848" stroke-width="2.6" />
<polygon points="549.8,783.5 551,810 540.1,808.2" fill="#1a1a1a"/>
<circle cx="365" cy="1017.8" r="28.2" fill="white" stroke="#3a3a3a" stroke-width="3.2"/>
<path d="M9.9,-3.3 L4.6,0.7 L-4.6,0.7 L-9.9,-3.3 L-9.9,-7.9 L-3.9,-13.5 L4.6,-13.5 L9.9,-7.9 L9.9,1.5 L-6,13.9" transform="translate(365,1017.8)" fill="none" stroke="#333" stroke-width="3.0" stroke-linejoin="round" stroke-linecap="round"/>
<circle cx="426" cy="1017.8" r="28.2" fill="white" stroke="#3a3a3a" stroke-width="3.2"/>
<path d="M-6.6,-8.6 L-0.7,-13.9 L-0.7,13.9 M-6.6,13.9 L7.3,13.9" transform="translate(426,1017.8)" fill="none" stroke="#333" stroke-width="3.0" stroke-linejoin="round" stroke-linecap="round"/>
<polyline points="633,879.5 688.3,879.5" fill="none" stroke="#484848" stroke-width="2.6" stroke-linejoin="miter" />
<line x1="688.3" y1="879.5" x2="712" y2="727" stroke="#484848" stroke-width="2.6" />
<polygon points="712,727 713.4,753.5 702.6,751.8" fill="#1a1a1a"/>
<line x1="688.3" y1="879.5" x2="715" y2="775" stroke="#484848" stroke-width="2.6" />
<polygon points="715,775 713.9,801.6 703.2,798.8" fill="#1a1a1a"/>
<circle cx="603.3" cy="879.5" r="28.2" fill="white" stroke="#3a3a3a" stroke-width="3.2"/>
<path d="M-6.6,-8.6 L-0.7,-13.9 L-0.7,13.9 M-6.6,13.9 L7.3,13.9" transform="translate(589.8,879.5)" fill="none" stroke="#333" stroke-width="3.0" stroke-linejoin="round" stroke-linecap="round"/>
<path d="M-6.6,-8.6 L-0.7,-13.9 L-0.7,13.9 M-6.6,13.9 L7.3,13.9" transform="translate(616.3,879.5)" fill="none" stroke="#333" stroke-width="3.0" stroke-linejoin="round" stroke-linecap="round"/>
<path d="M0,26 L0,0 L13,0 L18,4 L18,9 L13,13 L0,13 M8,13 L18,26" transform="translate(1694,519) scale(0.88,1)" fill="none" stroke="#333" stroke-width="2.8" stroke-linejoin="round" stroke-linecap="round"/>
<path d="M18,0 L0,0 L0,26 L18,26 M0,13 L11,13" transform="translate(1715.5,519) scale(0.88,1)" fill="none" stroke="#333" stroke-width="2.8" stroke-linejoin="round" stroke-linecap="round"/>
<path d="M0,26 L9.5,0 L19,26 M3.6,16 L15.4,16" transform="translate(1737,519) scale(0.88,1)" fill="none" stroke="#333" stroke-width="2.8" stroke-linejoin="round" stroke-linecap="round"/>
<path d="M0,26 L0,0 L13,0 L18,4 L18,9 L13,13 L0,13 M8,13 L18,26" transform="translate(1758,519) scale(0.88,1)" fill="none" stroke="#333" stroke-width="2.8" stroke-linejoin="round" stroke-linecap="round"/>
<path d="M0,0 L18,0 M9,0 L9,26" transform="translate(646.5,965)" fill="none" stroke="#333" stroke-width="2.8" stroke-linejoin="round" stroke-linecap="round"/>
<path d="M0,0 L13,0 L19,6 L19,20 L13,26 L0,26 Z" transform="translate(666.5,965)" fill="none" stroke="#333" stroke-width="2.8" stroke-linejoin="round" stroke-linecap="round"/>
<path d="M0,26 L0,0 L13,0 L18,4 L18,10 L13,14 L0,14" transform="translate(688,965)" fill="none" stroke="#333" stroke-width="2.8" stroke-linejoin="round" stroke-linecap="round"/>
<path d="M0,0 L13,26 L26,0" transform="translate(731,965)" fill="none" stroke="#333" stroke-width="2.8" stroke-linejoin="round" stroke-linecap="round"/>
<path d="M0,0 L10,0 M5,0 L5,26 M0,26 L10,26" transform="translate(761,965)" fill="none" stroke="#333" stroke-width="2.8" stroke-linejoin="round" stroke-linecap="round"/>
<path d="M18,0 L0,0 L0,26 L18,26 M0,13 L11,13" transform="translate(774.5,965)" fill="none" stroke="#333" stroke-width="2.8" stroke-linejoin="round" stroke-linecap="round"/>
<path d="M0,0 L6,26 L12.5,12 L19,26 L25,0" transform="translate(795,965)" fill="none" stroke="#333" stroke-width="2.8" stroke-linejoin="round" stroke-linecap="round"/>
<circle cx="145" cy="933.5" r="1.3" fill="#555"/>
</g></svg></body></html>
